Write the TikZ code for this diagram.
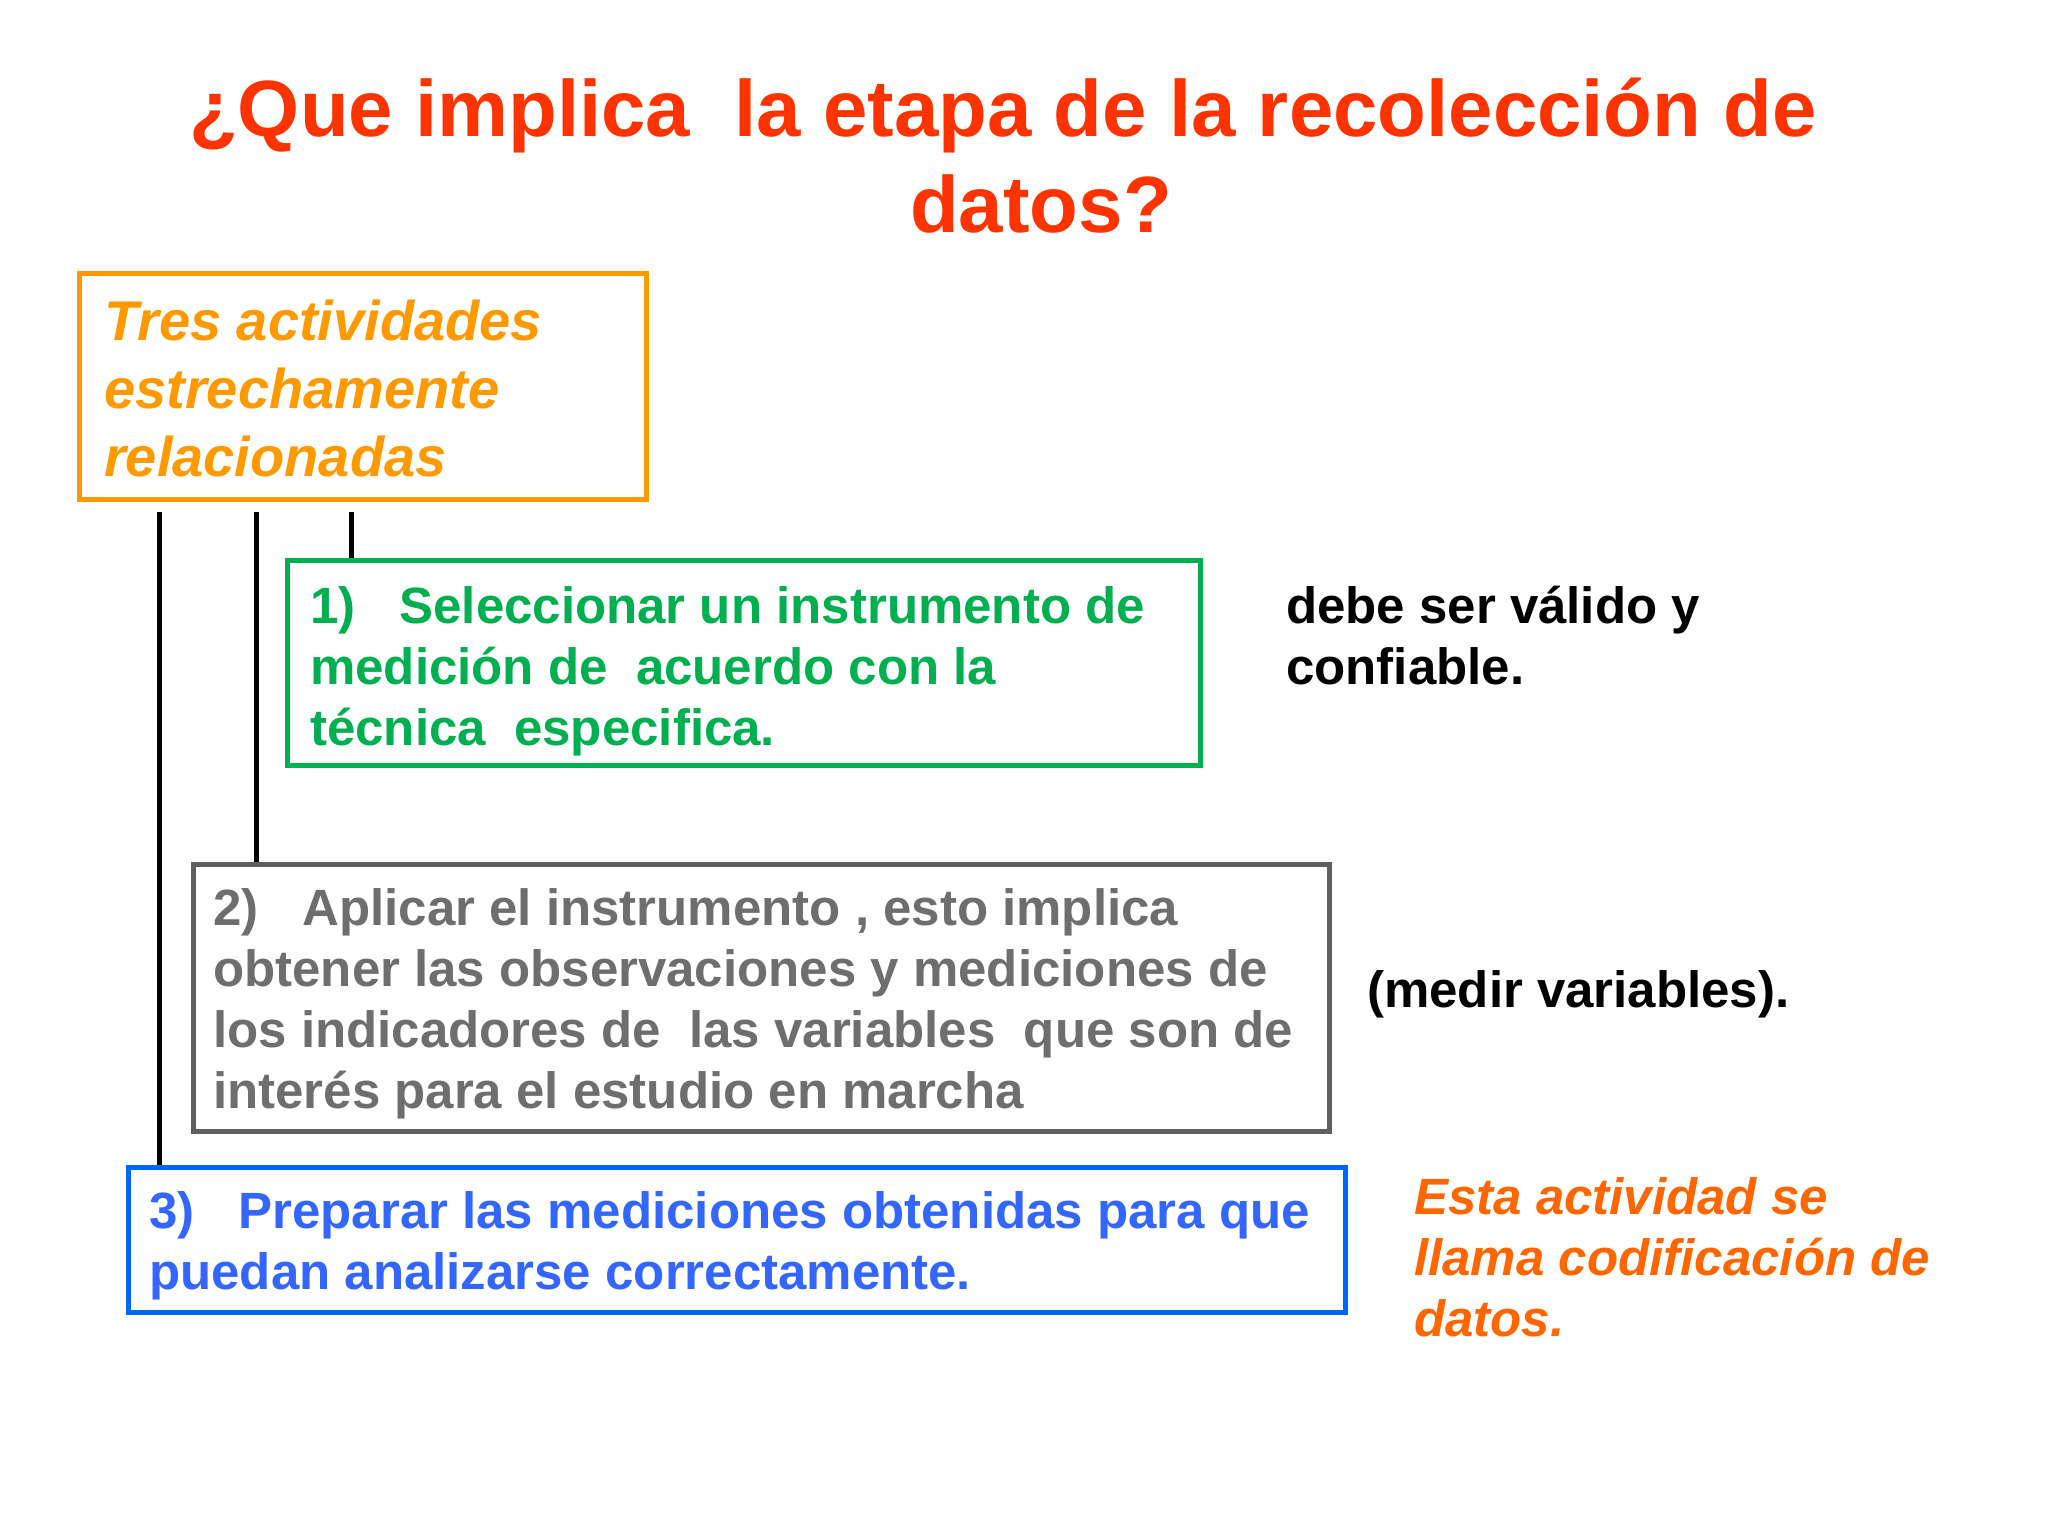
\documentclass[tikz,border=0pt]{standalone}
\usepackage{fontspec}
\setmainfont{Liberation Sans}
\definecolor{titlec}{RGB}{255,51,0}
\definecolor{orangec}{RGB}{255,153,0}
\definecolor{greenc}{RGB}{0,176,80}
\definecolor{grayb}{RGB}{95,95,95}
\definecolor{grayt}{RGB}{110,110,110}
\definecolor{blueb}{RGB}{0,102,255}
\definecolor{bluet}{RGB}{51,102,255}
\definecolor{notec}{RGB}{255,102,0}
\newcommand{\mylines}[2]{\vtop{\baselineskip=#1\lineskiplimit=-200pt\lineskip=0pt #2}}
\tikzset{
  boxstyle/.style={draw, line width=5pt, minimum width=#1, inner sep=0pt, anchor=north west},
  txt/.style={inner sep=0pt, anchor=base west, font=\fontsize{51}{61}\selectfont\bfseries},
  conn/.style={draw=black, line width=5pt}
}
\begin{document}
\begin{tikzpicture}[x=1pt,y=-1pt]
\useasboundingbox[fill=white] (0,0) rectangle (2048,1536);
% title
\node[inner sep=0pt, anchor=base west, text=titlec, font=\fontsize{79.8}{95}\selectfont\bfseries] (title1) at (189,137) {¿Que implica\ \ la etapa de la recolección de};
\node[inner sep=0pt, anchor=base west, text=titlec, font=\fontsize{79.8}{95}\selectfont\bfseries] (title2) at (910,232) {datos?};
% boxes
\node[boxstyle=567pt, minimum height=226pt, draw=orangec] (b0) at (77,271) {};
\node[boxstyle=913pt, minimum height=205pt, draw=greenc] (b1) at (285,558) {};
\node[boxstyle=1136pt, minimum height=267pt, draw=grayb] (b2) at (191,862) {};
\node[boxstyle=1217pt, minimum height=145pt, draw=blueb] (b3) at (126,1165) {};
% box texts
\node[txt, font=\fontsize{56}{68}\selectfont\bfseries\itshape, text=orangec] (t0) at (104,340)
  {\mylines{68pt}{\hbox{Tres actividades}\hbox{estrechamente}\hbox{relacionadas}}};
\node[txt, text=greenc] (t1) at (310,623)
  {\mylines{61pt}{\hbox{1)\hspace{44pt}Seleccionar un instrumento de}\hbox{medición de\ \ acuerdo con la}\hbox{técnica\ \ especifica.}}};
\node[txt, text=grayt] (t2) at (213,925)
  {\mylines{61pt}{\hbox{2)\hspace{44pt}Aplicar el instrumento , esto implica}\hbox{obtener las observaciones y mediciones de}\hbox{los indicadores de\ \ las variables\ \ que son de}\hbox{interés para el estudio en marcha}}};
\node[txt, text=bluet] (t3) at (149,1228)
  {\mylines{61pt}{\hbox{3)\hspace{44pt}Preparar las mediciones obtenidas para que}\hbox{puedan analizarse correctamente.}}};
% side notes
\node[txt, text=black] (n1) at (1286,623)
  {\mylines{61pt}{\hbox{debe ser válido y}\hbox{confiable.}}};
\node[txt, text=black] (n2) at (1367,1007) {(medir variables).};
\node[txt, font=\fontsize{51}{61}\selectfont\bfseries\itshape, text=notec] (n3) at (1414,1214)
  {\mylines{61pt}{\hbox{Esta actividad se}\hbox{llama codificación de}\hbox{datos.}}};
% connectors
\coordinate (c1) at (159,512);
\coordinate (c2) at (256,512);
\coordinate (c3) at (351,512);
\draw[conn] (c1) -- (c1 |- b3.north);
\draw[conn] (c2) -- (c2 |- b2.north);
\draw[conn] (c3) -- (c3 |- b1.north);
\end{tikzpicture}
\end{document}
